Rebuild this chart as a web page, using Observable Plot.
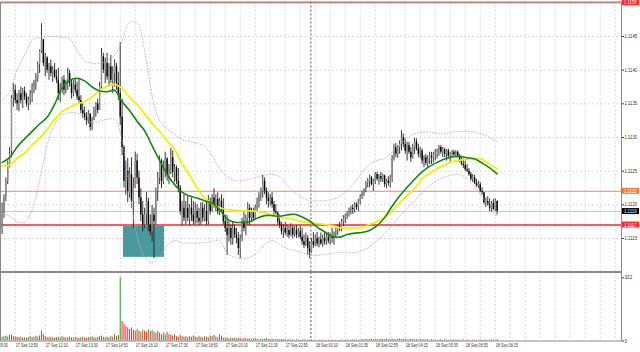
<!DOCTYPE html>
<html><head><meta charset="utf-8">
<script src="https://cdn.jsdelivr.net/npm/d3@7"></script>
<script src="https://cdn.jsdelivr.net/npm/@observablehq/plot@0.6"></script>
<style>
html,body{margin:0;padding:0;background:#fff;}
#chart{width:640px;height:352px;overflow:hidden;position:relative;}
#chart svg{display:block;overflow:hidden;}
</style></head><body><div id="chart"></div>
<script>
// prices are stored in pips above 1.1100 (price = 1.1100 + v * 0.0001)
const base = 1.11, pip = 0.0001;

const lows = [
15.6,18.0,20.5,23.0,25.5,27.0,34.5,35.0,34.0,33.8,
35.0,34.3,35.5,34.5,34.0,34.8,35.2,36.5,37.0,38.2,
39.5,42.5,40.5,39.0,39.5,38.5,39.0,38.2,38.8,38.0,
35.5,35.2,36.5,36.2,36.5,37.0,37.5,35.7,36.0,36.5,
35.5,35.0,33.5,32.8,32.5,31.8,32.0,31.0,31.0,32.5,
33.0,33.5,34.0,37.0,39.5,38.0,38.5,37.5,38.0,36.5,
37.5,37.0,35.5,31.8,27.3,22.5,21.4,20.3,21.0,19.5,
16.5,22.4,23.0,20.0,17.5,16.0,16.5,17.0,16.0,15.4,
14.5,12.0,17.0,20.5,23.0,22.4,23.0,24.0,23.5,23.0,
24.5,24.0,23.3,23.0,21.8,18.5,16.9,17.5,17.0,17.5,
16.9,17.5,17.0,17.0,17.2,16.9,17.0,17.4,17.5,16.9,
17.0,18.5,18.9,19.5,19.0,18.5,18.4,19.0,17.0,15.9,
12.5,14.5,14.0,14.0,15.0,14.2,12.5,12.0,14.5,16.0,
15.4,17.0,16.9,17.4,17.5,17.8,18.9,19.5,20.5,21.0,
21.5,20.0,19.5,19.8,19.5,18.4,18.5,17.0,16.5,15.5,
15.0,15.5,15.2,15.0,15.3,15.0,15.2,15.0,15.1,14.8,
14.0,13.5,13.8,12.5,12.0,12.8,13.5,13.8,13.8,13.6,
14.0,13.7,14.0,14.0,14.2,14.0,14.3,14.0,15.0,15.4,
16.0,16.0,16.8,17.2,17.8,18.2,18.5,18.6,18.8,19.2,
19.0,20.0,20.8,21.2,21.8,22.5,22.5,22.8,22.0,23.0,
23.5,22.9,23.3,23.3,22.6,22.4,22.8,22.5,23.3,26.5,
27.0,26.9,27.5,28.0,28.5,27.5,26.5,27.5,26.3,26.8,
27.5,28.0,27.0,26.9,26.0,25.5,25.8,25.4,26.0,26.0,
26.2,26.5,26.8,27.2,27.5,27.0,27.0,26.5,26.8,26.3,
27.0,27.2,27.0,26.9,26.2,25.8,25.4,25.0,24.8,24.2,
23.5,23.3,23.0,22.6,22.4,21.8,21.4,20.0,19.6,19.8,
19.0,18.9,19.2,19.0,18.5];

const highs = [
20.3,21.5,24.0,26.5,28.5,36.2,38.0,37.8,36.5,37.0,
37.5,37.3,37.5,36.5,36.0,37.0,38.0,38.5,39.5,41.2,
43.0,46.9,44.5,42.5,42.0,41.0,41.5,40.5,41.0,40.0,
40.3,38.0,39.0,39.2,38.5,40.3,40.0,38.5,38.5,38.8,
38.2,38.8,36.2,35.0,34.5,33.7,34.0,33.5,33.0,34.5,
35.2,35.7,38.2,43.2,42.5,41.8,42.5,41.0,42.2,40.5,
41.5,41.0,39.7,44.1,35.7,28.8,26.5,26.9,25.5,27.0,
24.0,27.8,27.5,25.0,22.4,20.5,19.5,21.8,21.0,18.5,
19.9,19.5,22.5,24.8,27.3,26.8,26.5,27.8,27.0,26.0,
28.4,28.0,26.0,25.8,25.4,22.9,20.5,21.5,20.5,21.4,
20.0,21.0,20.5,20.3,20.0,19.5,20.3,20.3,20.0,20.5,
21.4,21.0,21.5,22.4,21.5,21.8,21.0,21.5,20.9,18.5,
18.4,17.5,17.0,17.4,17.0,16.5,15.9,15.5,18.0,18.9,
18.5,20.3,20.0,19.5,19.5,20.0,21.0,21.8,22.5,24.4,
24.0,22.5,21.8,21.5,21.8,20.5,20.0,18.9,18.5,17.4,
17.0,17.4,17.0,16.8,17.2,16.9,16.8,16.9,16.5,16.8,
16.5,15.5,15.8,15.4,14.5,15.0,15.9,15.5,15.9,15.2,
15.8,15.5,15.9,15.6,15.9,15.8,16.5,16.0,16.5,17.0,
17.4,17.8,18.4,18.6,19.0,19.5,19.8,20.0,20.3,20.3,
20.8,21.5,22.0,22.4,23.5,23.9,24.4,24.2,23.8,24.8,
24.8,24.5,24.8,24.6,24.4,23.8,24.2,24.4,27.3,29.0,
29.1,28.8,29.5,31.0,30.5,29.8,29.3,29.3,28.5,29.0,
29.9,29.8,29.0,28.5,28.3,27.3,27.5,27.3,27.8,27.8,
27.8,28.2,28.3,28.8,28.8,28.5,28.4,28.2,28.3,27.8,
28.1,28.1,28.0,28.0,27.5,27.0,26.8,26.5,26.0,25.4,
24.8,24.5,24.4,23.8,23.5,23.3,22.5,21.8,21.0,21.2,
20.9,20.5,20.8,20.9,20.6];

const opens = [
16.5,19.0,21.0,23.5,26.0,28.0,35.8,37.0,35.5,35.0,
36.5,35.5,36.8,36.0,35.0,35.5,36.5,37.5,38.2,39.0,
40.8,42.8,44.5,41.0,41.8,40.0,40.5,39.5,40.0,39.0,
38.5,36.5,37.5,38.5,37.0,38.0,39.5,38.0,36.5,37.8,
37.0,36.0,35.5,34.0,33.5,33.0,32.5,33.5,31.5,32.5,
34.0,35.0,34.0,37.5,42.0,40.0,41.0,39.0,40.5,38.5,
39.5,40.5,38.0,36.5,33.0,28.5,23.5,25.0,22.0,24.5,
20.5,22.5,26.5,24.0,21.0,18.5,17.0,18.5,20.5,17.0,
16.0,18.5,17.5,22.0,24.0,26.5,23.5,25.5,26.8,24.5,
25.5,27.0,24.8,25.5,23.5,22.5,19.0,19.5,18.0,19.5,
18.0,19.5,18.5,17.5,19.0,18.0,17.5,19.5,18.0,19.0,
17.5,20.5,19.0,21.0,20.0,20.8,19.0,20.5,19.5,17.5,
16.5,15.5,16.5,15.0,16.5,15.5,15.0,13.5,15.0,17.5,
16.5,18.0,19.5,18.0,19.0,18.0,19.5,20.5,21.5,22.0,
23.5,22.0,21.0,20.5,21.0,20.0,19.0,18.8,17.5,17.0,
16.0,16.5,15.8,16.2,15.5,16.5,15.5,16.2,15.5,16.0,
15.2,14.5,14.0,15.0,13.5,13.0,14.5,14.0,15.0,14.2,
14.8,14.2,15.0,14.5,15.2,14.6,15.3,15.0,15.8,16.2,
16.8,16.5,17.5,18.0,18.3,18.8,19.2,19.5,19.3,20.0,
19.6,20.5,21.2,21.8,22.2,23.2,23.5,24.0,23.0,23.5,
24.5,23.8,24.2,23.8,24.3,23.0,23.5,23.2,24.0,26.8,
28.5,27.5,28.5,29.0,30.0,29.0,28.0,28.8,27.8,27.0,
28.5,29.3,28.3,27.5,28.0,26.5,27.0,26.2,26.8,27.2,
27.0,27.5,27.8,28.0,28.5,27.8,28.2,27.5,28.0,27.2,
27.6,27.8,27.4,27.8,27.2,26.5,26.0,25.8,25.2,25.0,
24.5,23.8,24.0,23.2,22.8,23.0,22.0,21.8,20.3,20.5,
20.0,19.5,20.2,19.3,20.5];

const closes = [
19.0,21.0,23.5,26.0,27.5,35.8,37.0,35.5,35.0,36.5,
35.5,36.8,36.0,35.0,35.5,36.5,37.5,38.2,39.0,40.8,
42.8,44.5,41.0,41.8,40.0,40.5,39.5,40.0,39.0,38.5,
36.5,37.5,38.5,37.0,38.0,39.5,38.0,36.5,37.8,37.0,
36.0,35.5,34.0,33.5,33.0,32.5,33.5,31.5,32.5,34.0,
35.0,34.0,37.5,42.0,40.0,41.0,39.0,40.5,38.5,39.5,
40.5,38.0,36.5,33.0,28.5,23.5,25.0,22.0,24.5,20.5,
22.5,26.5,24.0,21.0,18.5,17.0,18.5,20.5,17.0,16.0,
18.5,17.5,22.0,24.0,26.5,23.5,25.5,26.8,24.5,25.5,
27.0,24.8,25.5,23.5,22.5,19.0,19.5,18.0,19.5,18.0,
19.5,18.5,17.5,19.0,18.0,17.5,19.5,18.0,19.0,17.5,
20.5,19.0,21.0,20.0,20.8,19.0,20.5,19.5,17.5,16.5,
15.5,16.5,15.0,16.5,15.5,15.0,13.5,15.0,17.5,16.5,
18.0,19.5,18.0,19.0,18.0,19.5,20.5,21.5,22.0,23.5,
22.0,21.0,20.5,21.0,20.0,19.0,18.8,17.5,17.0,16.0,
16.5,15.8,16.2,15.5,16.5,15.5,16.2,15.5,16.0,15.2,
14.5,14.0,15.0,13.5,13.0,14.5,14.0,15.0,14.2,14.8,
14.2,15.0,14.5,15.2,14.6,15.3,15.0,15.8,16.2,16.8,
16.5,17.5,18.0,18.3,18.8,19.2,19.5,19.3,20.0,19.6,
20.5,21.2,21.8,22.2,23.2,23.5,24.0,23.0,23.5,24.5,
23.8,24.2,23.8,24.3,23.0,23.5,23.2,24.0,26.8,28.5,
27.5,28.5,29.0,30.0,29.0,28.0,28.8,27.8,27.0,28.5,
29.3,28.3,27.5,28.0,26.5,27.0,26.2,26.8,27.2,27.0,
27.5,27.8,28.0,28.5,27.8,28.2,27.5,28.0,27.2,27.6,
27.8,27.4,27.8,27.2,26.5,26.0,25.8,25.2,25.0,24.5,
23.8,24.0,23.2,22.8,23.0,22.0,21.8,20.3,20.5,20.0,
19.5,20.2,19.3,20.5,19.0];

const volumes = [
18,22,25,20,28,30,22,20,18,17,
19,15,16,14,18,21,17,19,24,20,
26,50,33,22,18,16,20,15,14,17,
19,16,22,18,15,17,21,16,14,18,
15,13,17,20,15,14,18,16,21,17,
15,19,22,25,18,16,20,17,24,19,
33,22,27,322,101,85,76,67,59,67,
55,50,59,50,45,55,50,45,57,48,
53,46,40,50,40,31,40,31,45,35,
30,26,31,22,19,29,22,19,22,17,
22,19,26,21,17,24,19,15,22,19,
15,26,22,30,21,17,31,22,15,13,
17,11,15,13,15,11,14,12,10,13,
11,9,11,8,10,12,9,7,10,8,
9,11,8,7,9,6,8,7,6,8,
7,6,5,7,5,6,4,6,5,4,
6,5,4,5,4,6,3,4,2,5,
3,4,3,2,4,3,5,3,4,2,
3,4,3,5,4,3,4,6,4,5,
3,5,7,6,8,5,7,9,6,8,
7,6,9,8,7,10,6,8,9,7,
6,8,10,7,9,8,6,7,9,8,
6,7,5,8,6,7,5,6,4,7,
5,6,4,5,7,4,6,5,3,5,
4,6,4,5,3,4,6,3,5,4,
3,5,4,3,4,6,3,4,5,3,
4,6,4,5,7];

// indicator readings, one every 4 bars (bars 0,4,8,...,264), in pips above 1.1100
const maStep = 4;
const greenMA = [
26.3,27.0,28.6,29.8,30.9,32.0,33.0,34.9,37.4,38.5,
38.8,38.4,37.5,36.9,36.8,37.0,35.3,34.0,32.4,31.0,
28.8,26.6,24.5,23.0,21.9,21.3,21.0,20.6,20.2,19.3,
17.9,17.4,17.4,17.5,18.0,18.4,18.4,18.3,18.5,18.6,
18.2,17.6,16.7,16.0,15.3,15.2,15.6,15.8,15.9,16.2,
16.9,18.1,19.8,21.3,22.6,23.8,24.9,25.7,26.3,26.8,
27.1,27.2,27.0,26.8,26.2,25.5,24.6];
const yellowMA = [
25.8,25.9,26.9,27.7,28.9,29.9,31.2,32.7,33.8,34.5,
35.0,35.3,36.0,37.0,37.6,37.9,37.3,36.0,34.9,33.5,
32.1,30.9,29.5,28.2,26.1,24.4,22.5,21.1,20.1,19.6,
19.3,19.2,19.1,19.1,19.0,18.8,18.5,18.2,18.0,17.8,
17.5,17.3,17.2,17.1,16.9,16.6,16.5,16.5,16.6,17.1,
17.5,18.2,19.1,20.3,21.4,22.4,23.9,24.7,25.4,25.9,
26.4,26.6,26.8,26.9,26.8,26.0,25.4];
const bandUpper = [
35.5,36.7,40.0,42.2,44.4,44.9,45.0,45.0,44.9,44.7,
42.9,41.4,41.0,41.0,41.4,42.2,44.4,47.1,47.1,42.9,
36.2,32.5,31.3,30.5,29.7,29.4,29.1,28.7,27.3,25.4,
24.2,23.6,23.6,23.8,24.1,24.4,24.5,24.2,22.9,21.8,
21.1,20.6,20.6,20.6,20.8,21.2,22.1,23.3,24.8,26.0,
26.6,26.9,27.8,28.8,29.9,30.6,30.8,30.8,30.6,30.6,
30.8,30.9,30.9,30.8,30.5,30.0,29.3];
const bandLower = [
18.7,18.3,17.5,17.4,19.2,23.6,28.8,31.8,33.3,33.7,
33.6,32.8,32.2,32.4,32.7,32.7,29.6,22.1,15.4,12.3,
11.4,12.3,14.0,14.7,14.4,14.3,14.3,14.4,14.6,14.7,
12.9,12.2,12.0,12.2,12.9,14.1,14.7,14.1,13.5,13.2,
12.9,12.5,12.5,12.6,12.8,12.9,12.9,12.9,13.2,13.8,
14.7,15.7,16.9,18.3,19.5,20.6,21.8,22.9,23.6,24.1,
24.4,24.5,23.9,22.7,21.2,19.8,18.3];

const priceTicks = [1.1115, 1.1120, 1.1125, 1.1130, 1.1135, 1.1140, 1.1145];
const volumeTicks = [0, 322];
const timeLabels = ["17 Sep 09:30","17 Sep 10:50","17 Sep 12:10","17 Sep 13:30","17 Sep 14:50",
  "17 Sep 16:10","17 Sep 17:30","17 Sep 18:50","17 Sep 20:10","17 Sep 21:30","17 Sep 22:50",
  "18 Sep 00:10","18 Sep 01:35","18 Sep 02:55","18 Sep 04:15","18 Sep 05:35","18 Sep 06:55","18 Sep 08:15"];
const timeLabelBars = [-9,7,23,39,55,71,87,103,119,135,151,167,183,199,215,231,247,263];
const levelPrices = [1.1150, 1.1122, 1.1119, 1.1117];
const levelColors = ["#ff3a3a", "#f6a07a", "#c8c8c8", "#ff5a5a"];
const levelBoxColors = ["#ff2a2a", "#f47a3a", "#000000", "#ff2a2a"];
const levelWidths = [1, 1.2, 1, 2];
const zoneBars = [64.7, 86.6];
const zonePrices = [1.1117, 1.11122];
const daySeparatorBar = 164.7;
const gridBarStep = 8, gridFirstBar = 7, gridLastBar = 327;

// ---- tables ----
const N = lows.length;
const bars = d3.range(N).map(i => ({
  i, low: base + lows[i]*pip, high: base + highs[i]*pip,
  open: base + opens[i]*pip, close: base + closes[i]*pip,
  up: closes[i] >= opens[i]
}));
const vols = volumes.map((v, i) => ({i, v, up: i === 0 ? true : v > volumes[i-1]}));
const ind = greenMA.map((g, k) => ({
  i: k*maStep, green: base+g*pip, yellow: base+yellowMA[k]*pip,
  upper: base+bandUpper[k]*pip, lower: base+bandLower[k]*pip
}));
const levels = levelPrices.map((p, k) => ({p, line: levelColors[k], box: levelBoxColors[k], w: levelWidths[k], label: p.toFixed(4)}));
const zone = [{x1: zoneBars[0], x2: zoneBars[1], y1: zonePrices[0], y2: zonePrices[1]}];
const gridBars = d3.range(gridFirstBar, gridLastBar + 1, gridBarStep);
const times = timeLabels.map((t, k) => ({t, i: timeLabelBars[k]}));

const font = "'Liberation Sans',Arial,sans-serif";
const xScale = {type: "linear", domain: [0, N-1], range: [1.6, 1.6 + 1.875*(N-1)], axis: null};
const gridStyle = {stroke: "#cfcfcf", strokeDasharray: "2,2", strokeWidth: 0.8};
const sepStyle = {stroke: "#555", strokeDasharray: "2,2", strokeWidth: 1};

const main = Plot.plot({
  width: 640, height: 272,
  marginLeft: 0, marginRight: 19, marginTop: 1.5, marginBottom: 1,
  x: xScale,
  y: {domain: [1.1150, 1.1115], range: [2.3, 238], axis: null, label: null},
  color: {type: "identity"},
  style: {background: "#fff", fontFamily: font, overflow: "hidden"},
  marks: [
    Plot.ruleX(gridBars, gridStyle),
    Plot.ruleY(priceTicks, gridStyle),
    Plot.ruleX([daySeparatorBar], sepStyle),
    Plot.rect(zone, {x1: "x1", x2: "x2", y1: "y1", y2: "y2", fill: "#4b999c"}),
    ...levels.map(l => Plot.ruleY([l.p], {stroke: l.line, strokeWidth: l.w})),
    Plot.ruleX(bars, {x: "i", y1: "low", y2: "high", stroke: "#222", strokeWidth: 0.9}),
    Plot.ruleX(bars.filter(d => d.up), {x: "i", y1: "open", y2: "close", stroke: "#8c8c8c", strokeWidth: 1.4}),
    Plot.ruleX(bars.filter(d => !d.up), {x: "i", y1: "open", y2: "close", stroke: "#000", strokeWidth: 1.4}),
    Plot.line(ind, {x: "i", y: "upper", stroke: "#c59ce8", strokeWidth: 0.9, strokeDasharray: "1,2", curve: "catmull-rom"}),
    Plot.line(ind, {x: "i", y: "lower", stroke: "#c59ce8", strokeWidth: 0.9, strokeDasharray: "1,2", curve: "catmull-rom"}),
    Plot.line(ind, {x: "i", y: "yellow", stroke: "#f4ef00", strokeWidth: 1.8, curve: "catmull-rom"}),
    Plot.line(ind, {x: "i", y: "green", stroke: "#128a12", strokeWidth: 1.6, curve: "catmull-rom"}),
    Plot.frame({stroke: "#8a8a8a", strokeWidth: 1}),
    Plot.axisY({anchor: "right", ticks: priceTicks, tickFormat: ".4f", tickSize: 2, tickPadding: 1, fontSize: 5, color: "#333", fontFamily: font, label: null}),
    Plot.rect(levels, {y1: "p", y2: "p", insetTop: -3, insetBottom: -3, insetLeft: 622, insetRight: -18, fill: "box"}),
    Plot.text(levels, {y: "p", text: "label", frameAnchor: "right", dx: 2.5, textAnchor: "start", fill: "#fff", fontSize: 5, fontFamily: font})
  ]
});

const vol = Plot.plot({
  width: 640, height: 80,
  marginLeft: 0, marginRight: 19, marginTop: 0, marginBottom: 11.5,
  x: xScale,
  y: {domain: [0, 322], range: [68.5, 5.3], axis: null, label: null},
  style: {background: "#fff", fontFamily: font, overflow: "hidden"},
  marks: [
    Plot.ruleX(gridBars, gridStyle),
    Plot.ruleX([daySeparatorBar], sepStyle),
    Plot.ruleX(vols.filter(d => d.up), {x: "i", y1: 0, y2: "v", stroke: "#2f9a2f", strokeWidth: 1}),
    Plot.ruleX(vols.filter(d => !d.up), {x: "i", y1: 0, y2: "v", stroke: "#ff2d2d", strokeWidth: 1}),
    Plot.frame({stroke: "#8a8a8a", strokeWidth: 1}),
    Plot.axisY({anchor: "right", ticks: volumeTicks, tickFormat: d => String(d), tickSize: 2, tickPadding: 1, fontSize: 5, color: "#333", fontFamily: font, label: null}),
    Plot.text(times, {x: "i", text: "t", frameAnchor: "bottom", dy: 5.5, dx: 0.5, textAnchor: "start", fill: "#333", fontSize: 5, fontFamily: font})
  ]
});

// compress the tiny terminal-style labels horizontally (the source font is a condensed bitmap face)
function squeeze(svg, selector, perChar) {
  svg.querySelectorAll(selector).forEach(t => {
    const n = t.textContent.length;
    t.setAttribute("textLength", (n * perChar).toFixed(1));
    t.setAttribute("lengthAdjust", "spacingAndGlyphs");
  });
}
squeeze(vol, 'g[aria-label="text"] text', 1.85);
squeeze(main, 'g[aria-label="y-axis tick label"] text', 2.1);
squeeze(main, 'g[aria-label="text"] text', 2.1);
squeeze(vol, 'g[aria-label="y-axis tick label"] text', 2.6);

document.getElementById("chart").append(main, vol);
</script></body></html>
